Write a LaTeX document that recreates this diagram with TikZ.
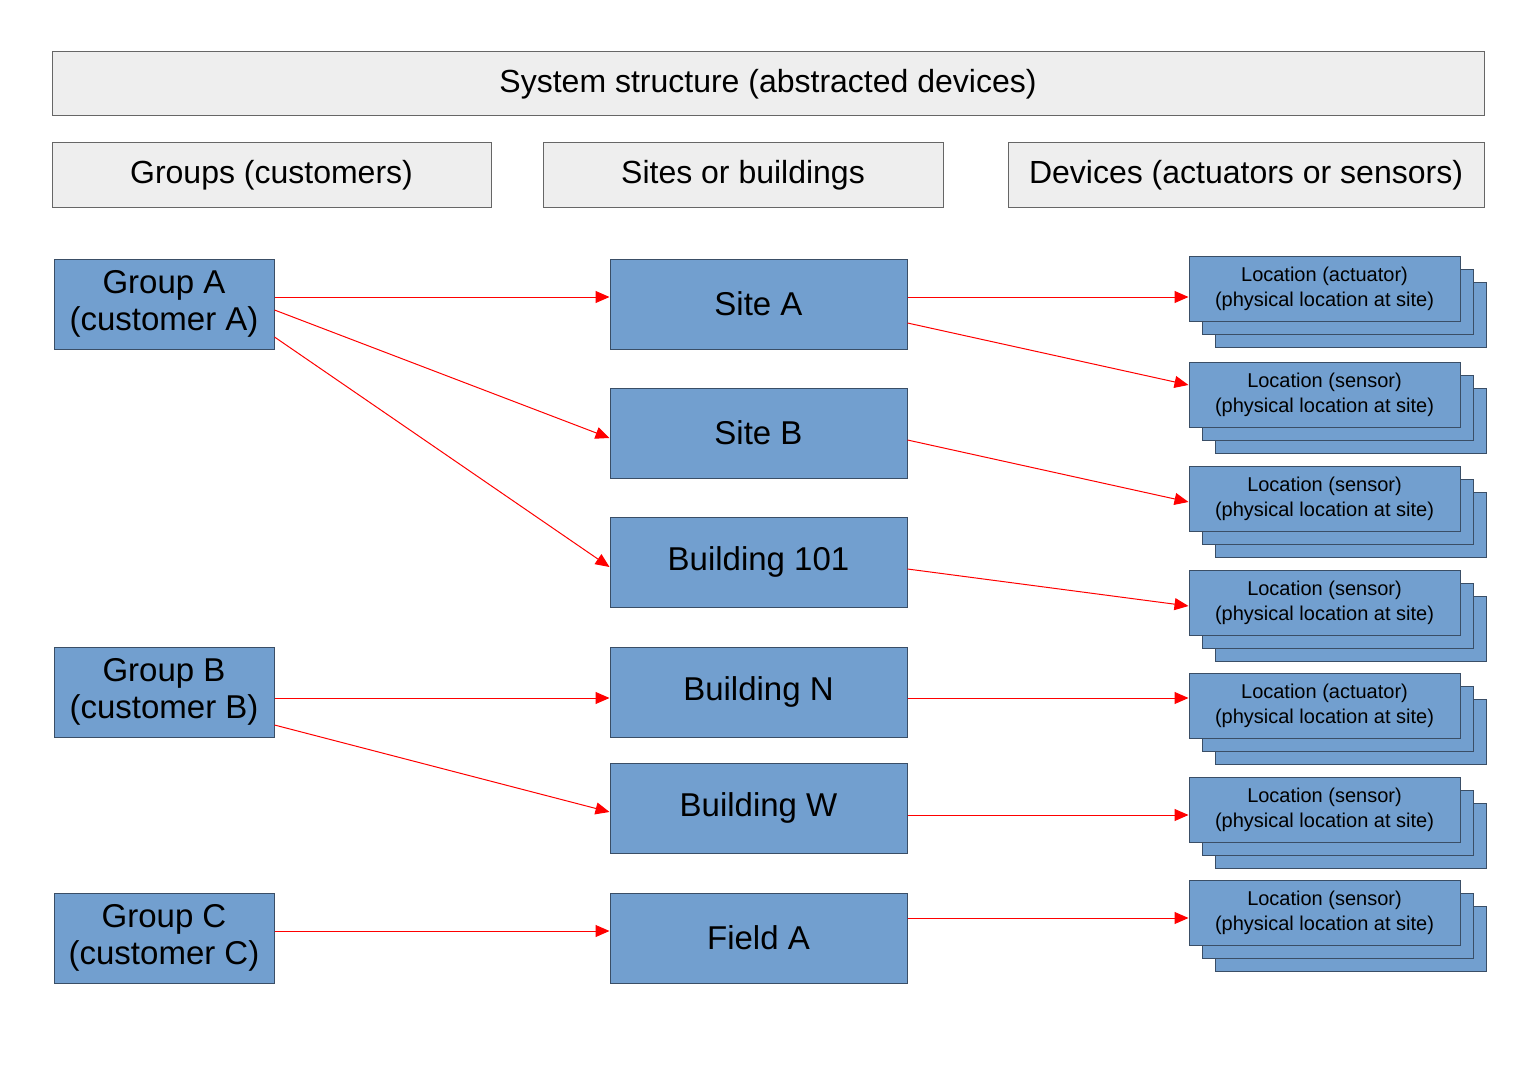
\documentclass[tikz,border=0pt]{standalone}
\usepackage{fontspec}
\setmainfont{Liberation Sans}
\usetikzlibrary{calc,arrows.meta}
\definecolor{bfill}{HTML}{729FCF}
\definecolor{bdraw}{HTML}{3A4E66}
\definecolor{hfill}{HTML}{EEEEEE}
\begin{document}
\begin{tikzpicture}[x=0.5pt,y=-0.5pt,
 hdr/.style={draw=gray!80!black,fill=hfill,line width=0.5pt,inner sep=0pt,minimum height=32pt,font=\fontsize{16}{19}\selectfont},
 box/.style={draw=bdraw,fill=bfill,line width=0.5pt,inner sep=0pt,minimum height=45pt,align=center,font=\fontsize{16.5}{18.5}\selectfont},
 gbox/.style={box,minimum width=110pt},
 sbox/.style={box,minimum width=148.5pt},
 dbox/.style={draw=bdraw,fill=bfill,line width=0.5pt,inner sep=0pt,minimum width=135.5pt,minimum height=32.5pt,align=center,font=\fontsize{10}{12.5}\selectfont},
 arr/.style={red,line width=0.5pt,-{Triangle[length=7pt,width=6pt]}}]
\useasboundingbox (0,0) rectangle (1536,1086);
\node[hdr,minimum width=716pt] (t) at (768,84) {System structure (abstracted devices)};
\node[hdr,minimum width=219.5pt] (h1) at (271.5,175) {Groups (customers)};
\node[hdr,minimum width=200pt] (h2) at (743,175) {Sites or buildings};
\node[hdr,minimum width=238pt] (h3) at (1246,175) {Devices (actuators or sensors)};
\node[gbox] (ga) at (164,304) {Group A\\(customer A)};
\node[gbox] (gb) at (164,692) {Group B\\(customer B)};
\node[gbox] (gc) at (164,938) {Group C\\(customer C)};
\node[sbox] (sa) at (758.5,304) {Site A};
\node[sbox] (sb) at (758.5,433) {Site B};
\node[sbox] (b1) at (758.5,562) {Building 101};
\node[sbox] (bn) at (758.5,692) {Building N};
\node[sbox] (bw) at (758.5,808) {Building W};
\node[sbox] (fa) at (758.5,938) {Field A};
\foreach \n/\y/\t in {d1/256/actuator,d2/362/sensor,d3/466/sensor,d4/570/sensor,d5/673/actuator,d6/777/sensor,d7/880/sensor}{
 \node[dbox] at (1350.5,\y+58.5) {};
 \node[dbox] at (1337.5,\y+45.5) {};
 \node[dbox] (\n) at (1324.5,\y+32.5) {Location (\t)\\(physical location at site)};
}
\draw[arr] ($(ga.east)+(0,-7)$) -- ($(sa.west)+(0,-7)$);
\draw[arr] ($(ga.east)+(0,6)$) -- ($(sb.west)+(0,5)$);
\draw[arr] ($(ga.east)+(0,33)$) -- ($(b1.west)+(0,5)$);
\draw[arr] ($(gb.east)+(0,6)$) -- ($(bn.west)+(0,6)$);
\draw[arr] ($(gb.east)+(0,33)$) -- ($(bw.west)+(0,4)$);
\draw[arr] ($(gc.east)+(0,-7)$) -- ($(fa.west)+(0,-7)$);
\draw[arr] ($(sa.east)+(0,-7)$) -- ($(d1.west)+(0,8.5)$);
\draw[arr] ($(sa.east)+(0,19)$) -- ($(d2.west)+(0,-9.5)$);
\draw[arr] ($(sb.east)+(0,7)$) -- ($(d3.west)+(0,3.5)$);
\draw[arr] ($(b1.east)+(0,7)$) -- ($(d4.west)+(0,3.5)$);
\draw[arr] ($(bn.east)+(0,6)$) -- ($(d5.west)+(0,-7.5)$);
\draw[arr] ($(bw.east)+(0,7)$) -- ($(d6.west)+(0,5.5)$);
\draw[arr] ($(fa.east)+(0,-20)$) -- ($(d7.west)+(0,5.5)$);
\end{tikzpicture}
\end{document}
